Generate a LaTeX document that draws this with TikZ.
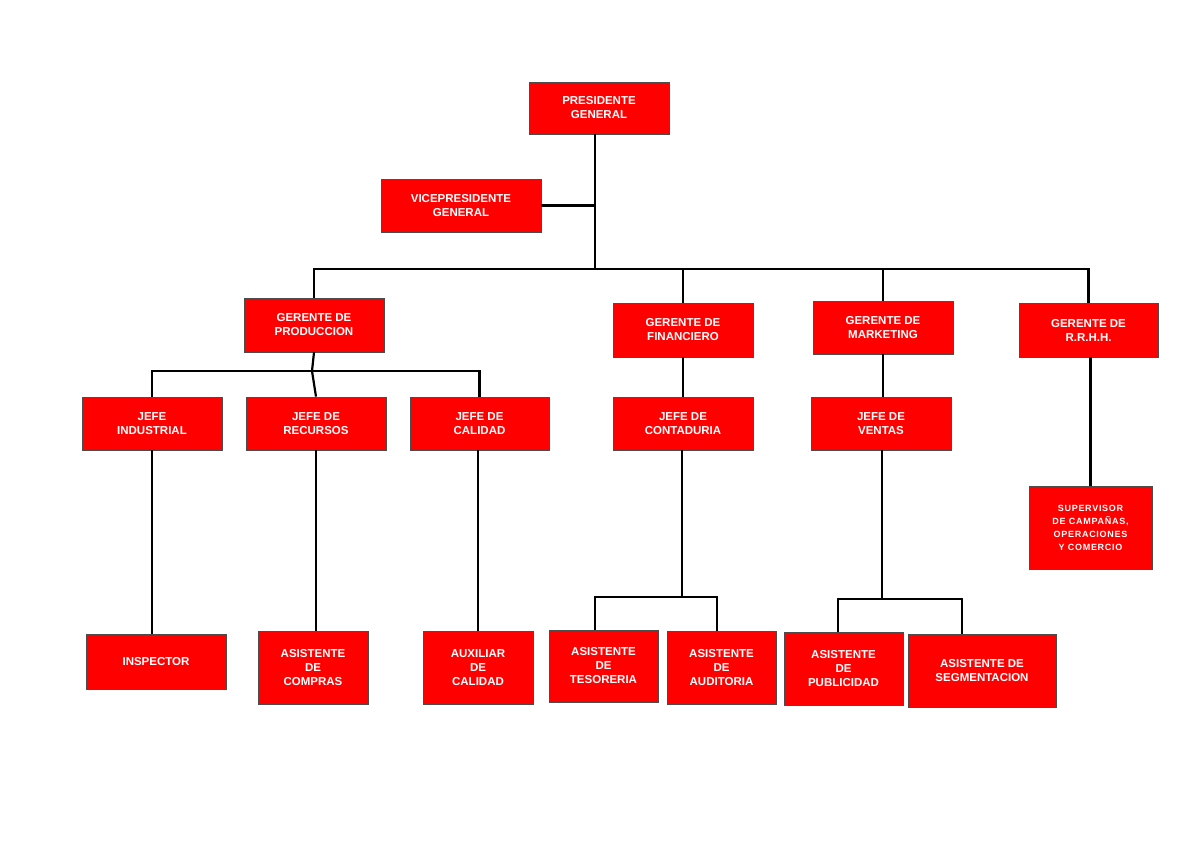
\documentclass[tikz,border=0pt]{standalone}
\usepackage{fontspec}
\setmainfont{Liberation Sans}
\begin{document}
\begin{tikzpicture}[x=1pt,y=-1pt,
 box/.style={draw=black!70,line width=0.8pt,fill=red,text=white,font=\bfseries\fontsize{11.5}{14}\selectfont,align=center,inner sep=0pt},
 ln/.style={line width=2.2pt}]
\useasboundingbox (0,0) rectangle (1200,849);
\newcommand\bx[6]{\node[box,minimum width=#4-#2,minimum height=#5-#3] (#1) at ({(#2+#4)/2},{(#3+#5)/2}) {#6};}
\bx{pres}{529}{82}{669}{134}{PRESIDENTE\\GENERAL}
\bx{vice}{381}{179}{541}{232}{VICEPRESIDENTE\\GENERAL}
\bx{gp}{244}{298}{384}{352}{GERENTE DE\\PRODUCCION}
\bx{gf}{613}{303}{753}{357}{GERENTE DE\\FINANCIERO}
\bx{gm}{813}{301}{953}{354}{GERENTE DE\\MARKETING}
\bx{gr}{1019}{303}{1158}{357}{GERENTE DE\\R.R.H.H.}
\bx{ji}{82}{397}{222}{450}{JEFE\\INDUSTRIAL}
\bx{jr}{246}{397}{386}{450}{JEFE DE\\RECURSOS}
\bx{jc}{410}{397}{549}{450}{JEFE DE\\CALIDAD}
\bx{jco}{613}{397}{753}{450}{JEFE DE\\CONTADURIA}
\bx{jv}{811}{397}{951}{450}{JEFE DE\\VENTAS}
\node[box,minimum width=123,minimum height=83,font=\bfseries\fontsize{9}{13}\selectfont] (sup) at (1090.5,527.5) {\addfontfeature{LetterSpace=8}SUPERVISOR\\\addfontfeature{LetterSpace=8}DE CAMPAÑAS,\\\addfontfeature{LetterSpace=8}OPERACIONES\\\addfontfeature{LetterSpace=8}Y COMERCIO};
\bx{ins}{86}{634}{226}{689}{INSPECTOR}
\bx{ac}{258}{631}{368}{704}{ASISTENTE\\DE\\COMPRAS}
\bx{auc}{423}{631}{533}{704}{AUXILIAR\\DE\\CALIDAD}
\bx{at}{549}{630}{658}{702}{ASISTENTE\\DE\\TESORERIA}
\bx{aa}{667}{631}{776}{704}{ASISTENTE\\DE\\AUDITORIA}
\bx{ap}{784}{632}{903}{705}{ASISTENTE\\DE\\PUBLICIDAD}
\bx{as}{908}{634}{1056}{707}{ASISTENTE DE\\SEGMENTACION}
\coordinate (t1) at (595,269);
\draw[ln] (pres.south -| t1) -- (t1);
\draw[ln] (vice.east) -- (vice.east -| t1);
\draw[ln] (gp.north) |- (gr.north |- t1) -- (gr.north);
\draw[ln] (gf.north) -- (gf.north |- t1);
\draw[ln] (gm.north) -- (gm.north |- t1);
\coordinate (b1) at (312,371);
\draw[ln] (gp.south) -- (b1);
\draw[ln] (ji.north) |- (b1) -| (jc.north);
\draw[ln] (jr.north) -- (b1);
\draw[ln] (gf.south) -- (jco.north -| gf.south);
\draw[ln] (gm.south) -- (jv.north -| gm.south);
\draw[ln] (gr.south -| sup.north) -- (sup.north);
\draw[ln] (ji.south) -- (ins.north -| ji.south);
\draw[ln] (jr.south) -- (ac.north -| jr.south);
\draw[ln] (jc.south -| auc.north) -- (auc.north);
\coordinate (b2) at (682,597);
\draw[ln] (jco.south -| b2) -- (b2);
\draw[ln] (at.north -| 595,0) |- (b2) -| (aa.north -| 717,0);
\coordinate (b3) at (882,599);
\draw[ln] (jv.south -| b3) -- (b3);
\draw[ln] (ap.north -| 838,0) |- (b3) -| (as.north -| 962,0);
\end{tikzpicture}
\end{document}
